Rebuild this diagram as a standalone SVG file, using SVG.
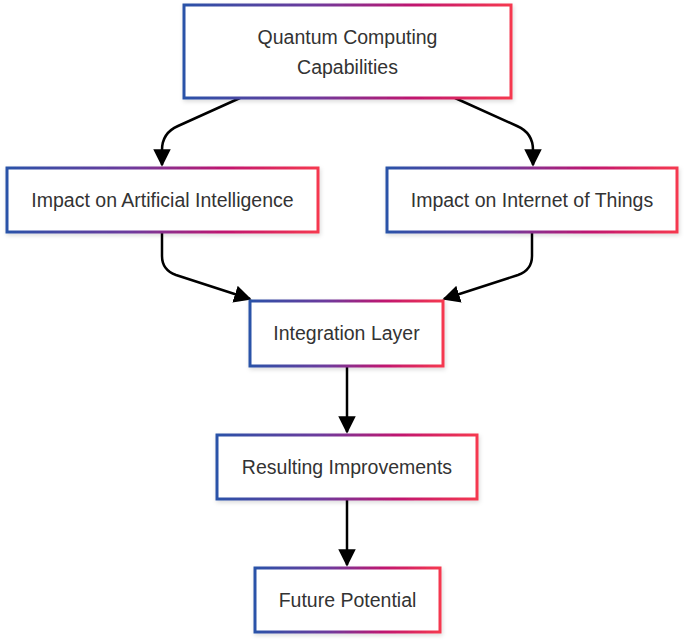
<svg xmlns="http://www.w3.org/2000/svg" width="685" height="641" viewBox="0 0 685 641">
<style>
.box{fill:#ffffff;stroke:url(#g);stroke-width:3;filter:url(#sh)}
.lbl{font-family:"Liberation Sans",Arial,Helvetica,sans-serif;font-size:19.5px;fill:#333333;text-anchor:middle;dominant-baseline:central}
.edge{fill:none;stroke:#000000;stroke-width:2.5;marker-end:url(#ah)}
</style>
<defs>
<linearGradient id="g" x1="0" y1="0" x2="1" y2="0">
<stop offset="0" stop-color="#2a52a8"/>
<stop offset="0.4" stop-color="#6e3a9c"/>
<stop offset="0.7" stop-color="#c0166f"/>
<stop offset="1" stop-color="#f5384f"/>
</linearGradient>
<filter id="sh" x="-10%" y="-20%" width="120%" height="150%">
<feDropShadow dx="1" dy="2" stdDeviation="2" flood-color="#000" flood-opacity="0.15"/>
</filter>
<marker id="ah" viewBox="0 0 10 10" refX="9" refY="5" markerWidth="7" markerHeight="7" markerUnits="strokeWidth" orient="auto">
<path d="M0,0 L10,5 L0,10 z" fill="#000"/>
</marker>
</defs>
<g id="connectors">
<path class="edge" d="M240,98 L178,126 Q162,133 162,150 L162,165"/>
<path class="edge" d="M455,98 L517,126 Q533,133 533,150 L533,165"/>
<path class="edge" d="M162,232 L162,256 Q162,270 176,275 L250,299"/>
<path class="edge" d="M532,232 L532,256 Q532,270 518,275 L444,299"/>
<path class="edge" d="M347,366 L347,432"/>
<path class="edge" d="M347,499 L347,565"/>
</g>
<g id="n1"><rect class="box" x="184" y="5" width="327" height="93"/><text class="lbl" x="347.5" y="37">Quantum Computing</text><text class="lbl" x="347.5" y="67">Capabilities</text></g>
<g id="n2"><rect class="box" x="7" y="168" width="311" height="64"/><text class="lbl" x="162.5" y="200">Impact on Artificial Intelligence</text></g>
<g id="n3"><rect class="box" x="387" y="168" width="290" height="64"/><text class="lbl" x="532" y="200">Impact on Internet of Things</text></g>
<g id="n4"><rect class="box" x="250" y="301" width="193" height="65"/><text class="lbl" x="346.5" y="333">Integration Layer</text></g>
<g id="n5"><rect class="box" x="217" y="435" width="260" height="64"/><text class="lbl" x="347" y="467">Resulting Improvements</text></g>
<g id="n6"><rect class="box" x="255" y="568" width="185" height="64"/><text class="lbl" x="347.5" y="600">Future Potential</text></g>
</svg>
